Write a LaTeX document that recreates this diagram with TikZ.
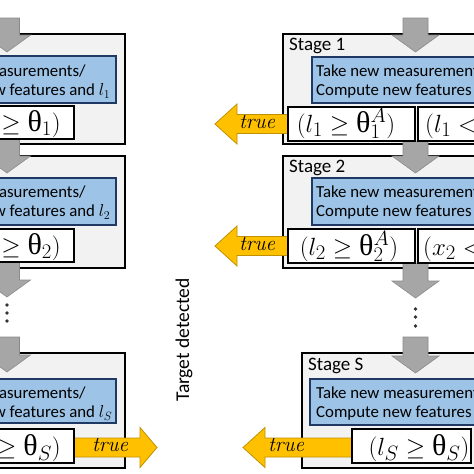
\documentclass[tikz,border=0pt]{standalone}
\usepackage[no-math]{fontspec}
\setmainfont{Carlito}
\newfontfamily\grk{Liberation Serif}
\usetikzlibrary{calc}
\definecolor{stagefill}{HTML}{F2F2F2}
\definecolor{bluefill}{HTML}{9DC3E6}
\definecolor{blueline}{HTML}{1F3864}
\definecolor{grayfill}{HTML}{A6A6A6}
\definecolor{grayline}{HTML}{8A8A8A}
\definecolor{orfill}{HTML}{FFC000}
\definecolor{orline}{HTML}{BF9000}
\newcommand\grdown[2]{%
  \filldraw[grarr] let \p1=(#1), \p2=(#2) in
   (\x1-12.5pt,\y1) -- (\x1+12.5pt,\y1) -- (\x1+12.5pt,\y2+17pt) -- (\x1+23.5pt,\y2+17pt)
   -- (\x1,\y2) -- (\x1-23.5pt,\y2+17pt) -- (\x1-12.5pt,\y2+17pt) -- cycle;}
\newcommand\orleft[3]{%
  \filldraw[orarr] let \p1=(#1), \p2=(#2) in
   (\x1,\y1+9.5pt) -- (\x2+#3pt,\y1+9.5pt) -- (\x2+#3pt,\y1+20pt) -- (\x2,\y1)
   -- (\x2+#3pt,\y1-20pt) -- (\x2+#3pt,\y1-9.5pt) -- (\x1,\y1-9.5pt) -- cycle;}
\newcommand\orright[3]{%
  \filldraw[orarr] let \p1=(#1), \p2=(#2) in
   (\x1,\y1+9.5pt) -- (\x2-#3pt,\y1+9.5pt) -- (\x2-#3pt,\y1+20pt) -- (\x2,\y1)
   -- (\x2-#3pt,\y1-20pt) -- (\x2-#3pt,\y1-9.5pt) -- (\x1,\y1-9.5pt) -- cycle;}
\newcommand\thetaup{\mbox{\grk θ}}
\newcommand\lowsup[1]{\raisebox{-3pt}{$\scriptstyle #1$}}
\begin{document}
\begin{tikzpicture}[x=1pt,y=-1pt,
  stagebox/.style={draw=black,line width=1.3pt,fill=stagefill,inner sep=0pt,outer sep=0pt,anchor=north west},
  bluebox/.style={draw=blueline,line width=1.3pt,fill=bluefill,inner sep=0pt,outer sep=0pt,anchor=north west},
  whitebox/.style={draw=black,line width=1.3pt,fill=white,inner sep=0pt,outer sep=0pt,anchor=north west},
  grarr/.style={fill=grayfill,draw=grayline,line width=0.6pt},
  orarr/.style={fill=orfill,draw=orline,line width=0.8pt},
  bluetxt/.style={font=\fontsize{16.8}{20}\selectfont,inner sep=0pt,anchor=base west},
  stagetxt/.style={font=\fontsize{19}{23}\selectfont,inner sep=0pt,anchor=base west},
  mathtxt/.style={font=\fontsize{30}{34}\selectfont,inner sep=0pt},
  truetxt/.style={font=\fontfamily{lmr}\fontsize{21}{25}\selectfont\itshape,inner sep=0pt,anchor=base},
  dotsty/.style={circle,fill=black!80,inner sep=0pt,minimum size=3.6pt}
]
\useasboundingbox (0,0) rectangle (474,474);
\fill[white] (0,0) rectangle (474,474);
\clip (0,0) rectangle (474,474);

% ---------- stage boxes ----------
\node[stagebox,minimum width=425pt,minimum height=110pt] (s1L) at (-300,34) {};
\node[stagebox,minimum width=425pt,minimum height=112pt] (s2L) at (-300,156) {};
\node[stagebox,minimum width=425pt,minimum height=115pt] (sSL) at (-300,353) {};
\node[stagebox,minimum width=320pt,minimum height=110pt] (s1R) at (283,34) {};
\node[stagebox,minimum width=320pt,minimum height=112pt] (s2R) at (283,156) {};
\node[stagebox,minimum width=300pt,minimum height=115pt] (sSR) at (302,353) {};

% ---------- grey flow arrows ----------
\coordinate (a0L) at (7,18);     \coordinate (b0L) at (7,52);
\coordinate (a1L) at (7,139);    \coordinate (b1L) at (7,173);
\coordinate (a2L) at (7,262);    \coordinate (b2L) at (7,297);
\coordinate (a3L) at (7,337);    \coordinate (b3L) at (7,372);
\coordinate (a0R) at (415.5,18);  \coordinate (b0R) at (415.5,52);
\coordinate (a1R) at (415.5,141); \coordinate (b1R) at (415.5,173);
\coordinate (a2R) at (415.5,263); \coordinate (b2R) at (415.5,298);
\coordinate (a3R) at (415.5,337); \coordinate (b3R) at (415.5,373);
\grdown{a0L}{b0L} \grdown{a1L}{b1L} \grdown{a2L}{b2L} \grdown{a3L}{b3L}
\grdown{a0R}{b0R} \grdown{a1R}{b1R} \grdown{a2R}{b2R} \grdown{a3R}{b3R}

% ---------- dots ----------
\node[dotsty] (d1L) at (7,305) {};
\node[dotsty] (d2L) at (7,313) {};
\node[dotsty] (d3L) at (7,321) {};
\node[dotsty] (d1R) at (415.5,309) {};
\node[dotsty] (d2R) at (415.5,317) {};
\node[dotsty] (d3R) at (415.5,326) {};

% ---------- orange "true" arrows ----------
\coordinate (o1s) at (289,124);  \coordinate (o1t) at (215,124);
\coordinate (o2s) at (291,246);  \coordinate (o2t) at (215,246);
\coordinate (o3s) at (353,447.5); \coordinate (o3t) at (243,447.5);
\coordinate (o4s) at (73,447.5);  \coordinate (o4t) at (157,447.5);
\orleft{o1s}{o1t}{22} \orleft{o2s}{o2t}{22} \orleft{o3s}{o3t}{22}
\orright{o4s}{o4t}{17}
\node[truetxt] (tr1) at (257,128.5) {true};
\node[truetxt] (tr2) at (257,250.5) {true};
\node[truetxt] (tr3) at (286,451) {true};
\node[truetxt] (tr4) at (110,451) {true};

% ---------- blue boxes ----------
\node[bluebox,minimum width=396pt,minimum height=47pt] (b1L) at (-280,56) {};
\node[bluebox,minimum width=396pt,minimum height=47pt] (b2L) at (-280,178) {};
\node[bluebox,minimum width=396pt,minimum height=44pt] (bSL) at (-280,379) {};
\node[bluebox,minimum width=300pt,minimum height=46pt] (b1R) at (312,57) {};
\node[bluebox,minimum width=300pt,minimum height=47pt] (b2R) at (312,178) {};
\node[bluebox,minimum width=300pt,minimum height=46pt] (bSR) at (310,379) {};

\foreach \nm/\yy/\xx/\ll in {p1L/57/-90/1, p2L/178/-90/2, pSL/379/-90/S, p1R/57/316/1, p2R/178/316/2, pSR/379/316/S}{
  \node[bluetxt] (\nm a) at (\xx,\yy+19) {Take new measurements/};
  \node[bluetxt] (\nm b) at (\xx,\yy+38.5) {Compute new features and $l_{\ll}$};
}

% ---------- white condition boxes ----------
\node[whitebox,minimum width=274pt,minimum height=33pt] (w1L) at (-200,106) {};
\node[whitebox,minimum width=274pt,minimum height=33pt] (w2L) at (-200,229) {};
\node[whitebox,minimum width=274pt,minimum height=34pt] (wSL) at (-200,429) {};
\node[whitebox,minimum width=127pt,minimum height=34pt] (w1aR) at (288,107) {};
\node[whitebox,minimum width=200pt,minimum height=34pt] (w1bR) at (418,107) {};
\node[whitebox,minimum width=127pt,minimum height=34pt] (w2aR) at (288,229) {};
\node[whitebox,minimum width=200pt,minimum height=34pt] (w2bR) at (418,229) {};
\node[whitebox,minimum width=119pt,minimum height=34pt] (wSR) at (352,429) {};

\node[mathtxt,anchor=base east] (m1L) at (61,131) {$(l_1 \geq \thetaup_1)$};
\node[mathtxt,anchor=base east] (m2L) at (61,254) {$(l_2 \geq \thetaup_2)$};
\node[mathtxt,anchor=base east] (mSL) at (61,455) {$(l_S \geq \thetaup_S)$};
\node[mathtxt,anchor=base] (m1aR) at (346,132) {$(l_1 \geq \thetaup_1^{\lowsup{A}})$};
\node[mathtxt,anchor=base west] (m1bR) at (425,132) {$(l_1 < \thetaup_1^{\lowsup{B}})$};
\node[mathtxt,anchor=base] (m2aR) at (349,255) {$(l_2 \geq \thetaup_2^{\lowsup{A}})$};
\node[mathtxt,anchor=base west] (m2bR) at (423,255) {$(x_2 < \thetaup_2^{\lowsup{B}})$};
\node[mathtxt,anchor=base] (mSR) at (419,455) {$(l_S \geq \thetaup_S)$};

% ---------- stage labels ----------
\node[stagetxt] (st1) at (289,50.5) {Stage 1};
\node[stagetxt] (st2) at (289,172) {Stage 2};
\node[stagetxt] (stS) at (308,370) {Stage S};

% ---------- side label ----------
\node[rotate=90,font=\fontsize{19.5}{23}\selectfont,inner sep=0pt] (td) at (184,340) {Target detected};
\end{tikzpicture}
\end{document}
